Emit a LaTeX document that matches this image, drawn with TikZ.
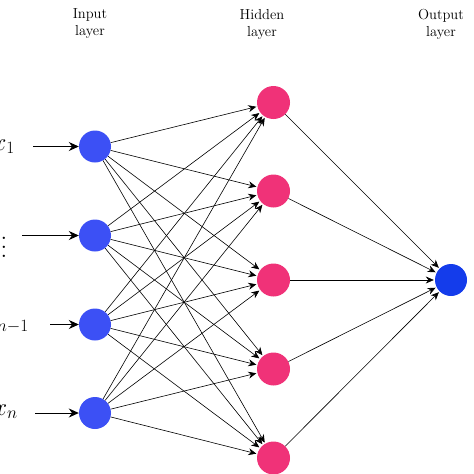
\documentclass[tikz,border=0pt]{standalone}
\usetikzlibrary{arrows.meta}
\definecolor{inblue}{RGB}{60,80,245}
\definecolor{hidpink}{RGB}{240,50,120}
\definecolor{outblue}{RGB}{20,60,235}
\begin{document}
\begin{tikzpicture}[x=1pt,y=-1pt,
  inneuron/.style={circle,fill=inblue,minimum size=32pt,inner sep=0pt},
  hidneuron/.style={circle,fill=hidpink,minimum size=33pt,inner sep=0pt},
  outneuron/.style={circle,fill=outblue,minimum size=32pt,inner sep=0pt},
  conn/.style={-{Stealth[length=8pt,width=7pt]},line width=0.6pt,shorten >=1pt},
  inarrow/.style={-{Stealth[length=10pt,width=9pt]},line width=0.9pt},
  title/.style={align=center,font=\fontsize{14.5}{17}\selectfont},
  lab/.style={anchor=base east,inner sep=0pt,font=\fontsize{26}{30}\selectfont}]
\useasboundingbox (0,0) rectangle (474,474);
\node[title] (tin) at (90,24) {Input\\layer};
\node[title] (thid) at (262,24) {Hidden\\layer};
\node[title] (tout) at (441,24) {Output\\layer};
\foreach \i/\y in {1/146.5,2/235.5,3/324.5,4/413}
  \node[inneuron] (I\i) at (95,\y) {};
\foreach \i/\y in {1/102.5,2/191,3/280,4/369,5/458}
  \node[hidneuron] (H\i) at (273.5,\y) {};
\node[outneuron] (O) at (451,280) {};
\node[lab] (L1) at (15,150) {$x_1$};
\node[inner sep=0pt,scale=2.2] (L2) at (4,241) {$\vdots$};
\node[lab] (L3) at (29,328) {$x_{n-1}$};
\node[lab] (L4) at (18,415) {$x_n$};
\coordinate (S1) at (33,146.5);
\coordinate (S2) at (22,235.5);
\coordinate (S3) at (50,324.5);
\coordinate (S4) at (35,413);
\foreach \i in {1,2,3,4} \draw[inarrow] (S\i) -- (I\i);
\foreach \i in {1,2,3,4}
  \foreach \j in {1,2,3,4,5}
    \draw[conn] (I\i) -- (H\j);
\foreach \j in {1,2,3,4,5}
  \draw[conn] (H\j) -- (O);
\end{tikzpicture}
\end{document}
